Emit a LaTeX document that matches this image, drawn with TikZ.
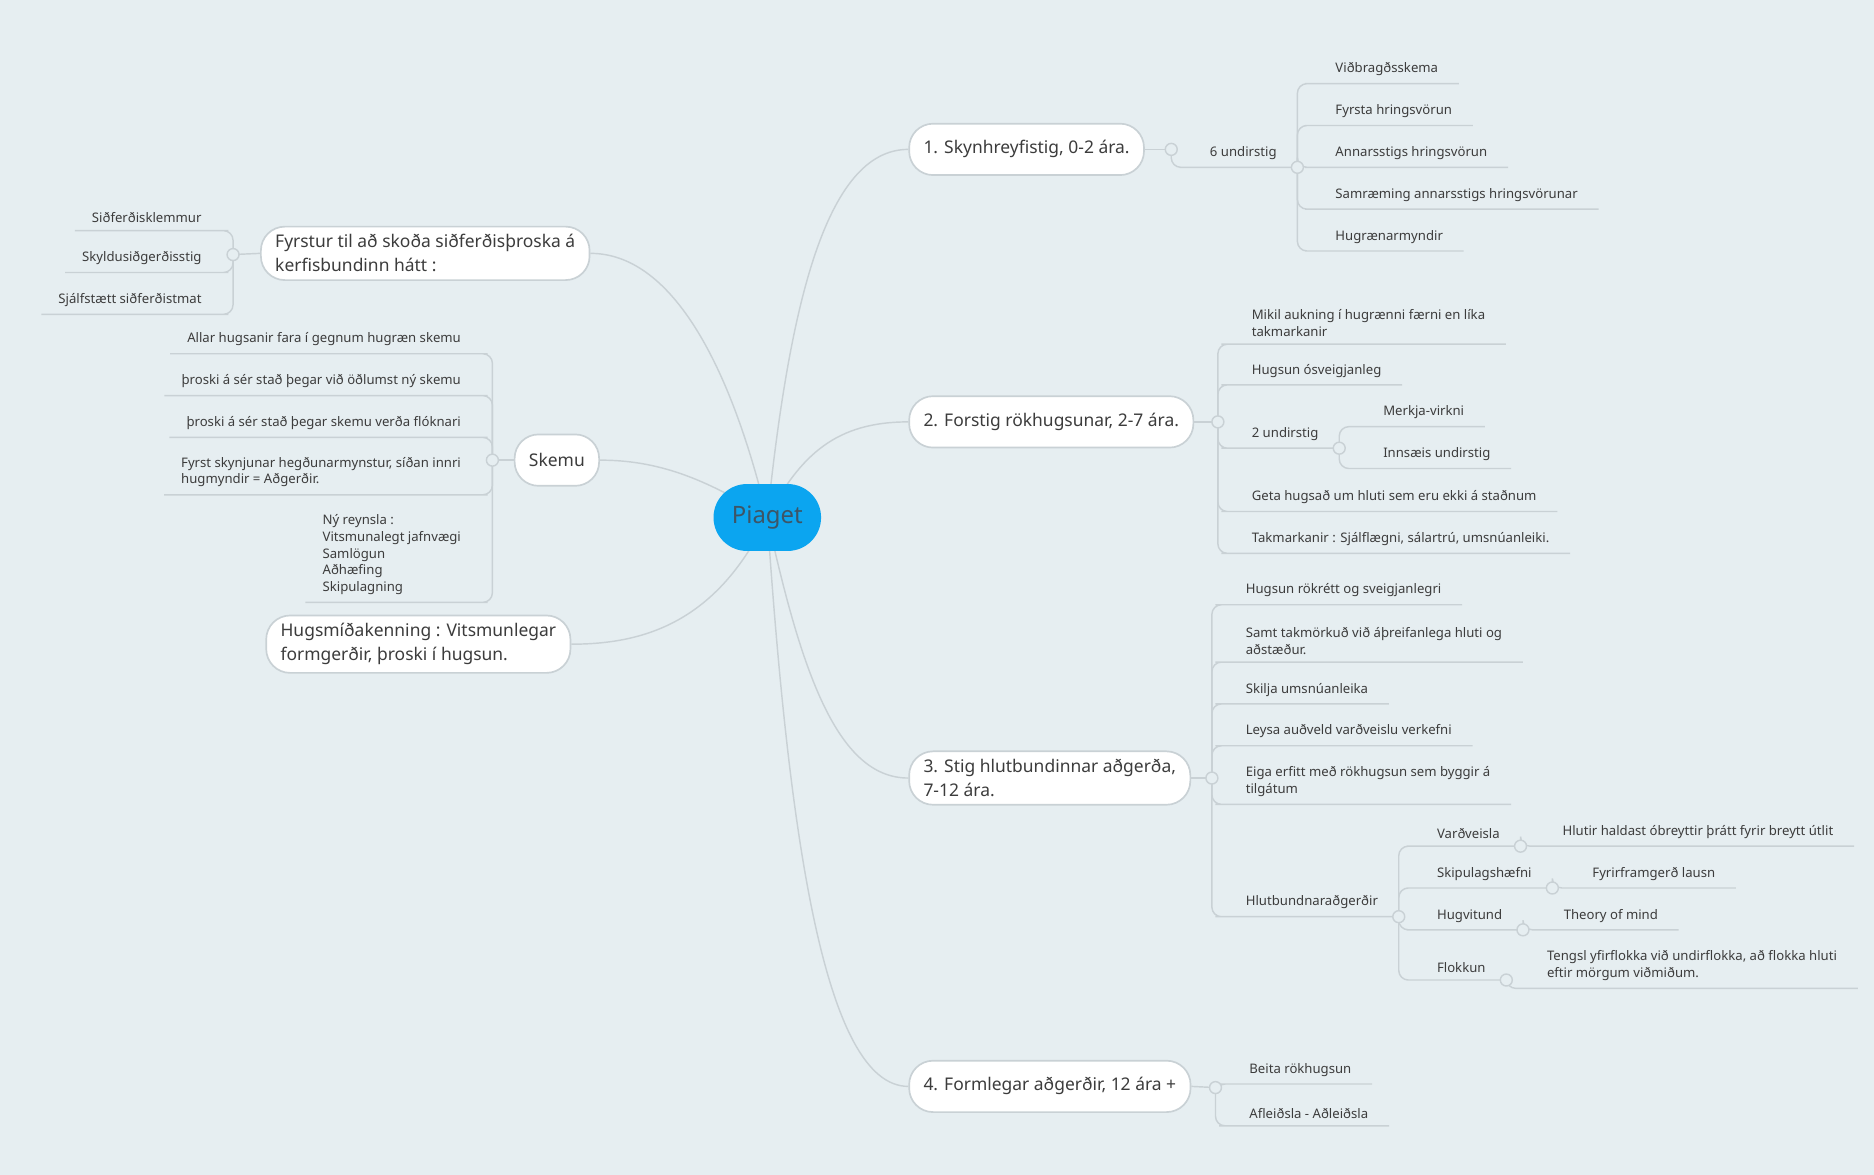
\documentclass[tikz,border=0pt]{standalone}
\usepackage{fontspec}
\setmainfont{Noto Sans}
\usetikzlibrary{backgrounds}
\pgfdeclarelayer{bgfill}
\pgfsetlayers{bgfill,background,main}
\definecolor{bgc}{HTML}{E6EEF1}
\definecolor{lnc}{HTML}{C9D1D5}
\definecolor{txc}{HTML}{3C3C3C}
\definecolor{pblue}{HTML}{0BA5F0}
\definecolor{ptext}{HTML}{3D5566}
\tikzset{
 br/.style={draw=lnc,line width=0.6pt,rounded corners=4pt},
 leaf/.style={inner xsep=8.5pt,inner ysep=3pt,font=\fontsize{5.5}{7}\selectfont,text=txc,align=left},
 lleaf/.style={inner xsep=7pt,inner ysep=3pt,font=\fontsize{5.5}{7}\selectfont,text=txc,align=left},
 mainbox/.style={draw=lnc,line width=0.7pt,fill=white,rounded corners=10pt,minimum height=21.5pt,inner xsep=6pt,font=\fontsize{7.3}{10}\selectfont,text=txc,align=left},
 hubc/.style={circle,draw=lnc,fill=bgc,line width=0.6pt,inner sep=0pt,minimum size=5pt}
}
\newcommand\rleaf[5]{\node[leaf,anchor=south west] (#1) at (#3,#4) {#5};
 \begin{pgfonlayer}{background}\draw[br] (#2) |- (#1.south west) -- (#1.south east);\end{pgfonlayer}}
\newcommand\lleaf[5]{\node[lleaf,anchor=south east] (#1) at (#3,#4) {#5};
 \begin{pgfonlayer}{background}\draw[br] (#2) |- (#1.south east) -- (#1.south west);\end{pgfonlayer}}
\begin{document}
\begin{tikzpicture}[x=0.5pt,y=-0.5pt]
\begin{pgfonlayer}{bgfill}
\fill[bgc] (0,0) rectangle (1568,983);
\end{pgfonlayer}
\useasboundingbox (0,0) rectangle (1568,983);
\node[fill=pblue,rounded corners=14pt,minimum width=45pt,minimum height=28pt,font=\fontsize{10}{12}\selectfont,text=ptext] (P) at (642,433) {Piaget};
\node[mainbox,anchor=west] (n1) at (760,125) {1. Skynhreyfistig, 0-2 ára.};
\node[mainbox,anchor=west] (n2) at (760,353) {2. Forstig rökhugsunar, 2-7 ára.};
\node[mainbox,anchor=west] (n3) at (760,651) {3. Stig hlutbundinnar aðgerða,\\7-12 ára.};
\node[mainbox,anchor=west] (n4) at (760,909) {4. Formlegar aðgerðir, 12 ára +};
\node[mainbox,anchor=east] (l1) at (494,212) {Fyrstur til að skoða siðferðisþroska á\\kerfisbundinn hátt :};
\node[mainbox,anchor=east] (l2) at (502,385) {Skemu};
\node[mainbox,anchor=east] (l3) at (478,539) {Hugsmíðakenning : Vitsmunlegar\\formgerðir, þroski í hugsun.};
\begin{pgfonlayer}{background}
\draw[br] (P.center) .. controls (660,260) and (690,125) .. (n1.west);
\draw[br] (P.center) .. controls (670,380) and (700,353) .. (n2.west);
\draw[br] (P.center) .. controls (670,560) and (700,651) .. (n3.west);
\draw[br] (P.center) .. controls (660,700) and (690,909) .. (n4.west);
\draw[br] (P.center) .. controls (610,300) and (560,212) .. (l1.east);
\draw[br] (P.center) .. controls (590,400) and (550,385) .. (l2.east);
\draw[br] (P.center) .. controls (600,520) and (540,539) .. (l3.east);
\end{pgfonlayer}
\coordinate (c1) at (980,125);
\coordinate (h2) at (1019,353);
\coordinate (h3) at (1014,651);
\coordinate (h4) at (1017,910);
\coordinate (g1) at (195,213);
\coordinate (g2) at (412,385);
\begin{pgfonlayer}{background}
\draw[br] (n1.east) -- (c1); \draw[br] (n2.east) -- (h2); \draw[br] (n3.east) -- (h3); \draw[br] (n4.east) -- (h4);
\draw[br] (l1.west) -- (g1); \draw[br] (l2.west) -- (g2);
\end{pgfonlayer}
% branch 1
\rleaf{u6}{c1}{995}{140}{6 undirstig}
\coordinate (h1) at (u6.south east);
\rleaf{a1}{h1}{1100}{70}{Viðbragðsskema}
\rleaf{a2}{h1}{1100}{105}{Fyrsta hringsvörun}
\rleaf{a3}{h1}{1100}{140}{Annarsstigs hringsvörun}
\rleaf{a4}{h1}{1100}{175}{Samræming annarsstigs hringsvörunar}
\rleaf{a5}{h1}{1100}{210}{Hugrænarmyndir}
% branch 2
\rleaf{b1}{h2}{1030}{288}{Mikil aukning í hugrænni færni en líka\\takmarkanir}
\rleaf{b2}{h2}{1030}{322}{Hugsun ósveigjanleg}
\rleaf{b3}{h2}{1030}{375}{2 undirstig}
\coordinate (h2b) at (b3.south east);
\rleaf{b31}{h2b}{1140}{357}{Merkja-virkni}
\rleaf{b32}{h2b}{1140}{392}{Innsæis undirstig}
\rleaf{b4}{h2}{1030}{428}{Geta hugsað um hluti sem eru ekki á staðnum}
\rleaf{b5}{h2}{1030}{463}{Takmarkanir : Sjálflægni, sálartrú, umsnúanleiki.}
% branch 3
\rleaf{d1}{h3}{1025}{506}{Hugsun rökrétt og sveigjanlegri}
\rleaf{d2}{h3}{1025}{554}{Samt takmörkuð við áþreifanlega hluti og\\aðstæður.}
\rleaf{d3}{h3}{1025}{589}{Skilja umsnúanleika}
\rleaf{d4}{h3}{1025}{624}{Leysa auðveld varðveislu verkefni}
\rleaf{d5}{h3}{1025}{673}{Eiga erfitt með rökhugsun sem byggir á\\tilgátum}
\rleaf{d6}{h3}{1025}{767}{Hlutbundnaraðgerðir}
\coordinate (h3b) at (d6.south east);
\rleaf{e1}{h3b}{1185}{708}{Varðveisla}
\coordinate (he1) at (e1.south east);
\rleaf{e11}{he1}{1290}{708}{Hlutir haldast óbreyttir þrátt fyrir breytt útlit}
\rleaf{e2}{h3b}{1185}{743}{Skipulagshæfni}
\coordinate (he2) at (e2.south east);
\rleaf{e21}{he2}{1315}{743}{Fyrirframgerð lausn}
\rleaf{e3}{h3b}{1185}{778}{Hugvitund}
\coordinate (he3) at (e3.south east);
\rleaf{e31}{he3}{1291}{778}{Theory of mind}
\rleaf{e4}{h3b}{1185}{820}{Flokkun}
\coordinate (he4) at (e4.south east);
\rleaf{e41}{he4}{1277}{827}{Tengsl yfirflokka við undirflokka, að flokka hluti\\eftir mörgum viðmiðum.}
% branch 4
\rleaf{f1}{h4}{1028}{907}{Beita rökhugsun}
\rleaf{f2}{h4}{1028}{942}{Afleiðsla - Aðleiðsla}
% left 1
\lleaf{k1}{g1}{183}{193}{Siðferðisklemmur}
\lleaf{k2}{g1}{183}{228}{Skyldusiðgerðisstig}
\lleaf{k3}{g1}{183}{263}{Sjálfstætt siðferðistmat}
% left 2
\lleaf{m1}{g2}{400}{296}{Allar hugsanir fara í gegnum hugræn skemu}
\lleaf{m2}{g2}{400}{331}{þroski á sér stað þegar við öðlumst ný skemu}
\lleaf{m3}{g2}{400}{366}{þroski á sér stað þegar skemu verða flóknari}
\lleaf{m4}{g2}{400}{414}{Fyrst skynjunar hegðunarmynstur, síðan innri\\hugmyndir = Aðgerðir.}
\lleaf{m5}{g2}{400}{504}{Ný reynsla :\\Vitsmunalegt jafnvægi\\Samlögun\\Aðhæfing\\Skipulagning}
\foreach \h in {c1,h1,h2,h2b,h3,h3b,he1,he2,he3,he4,h4,g1,g2} \node[hubc] at (\h) {};
\end{tikzpicture}
\end{document}
